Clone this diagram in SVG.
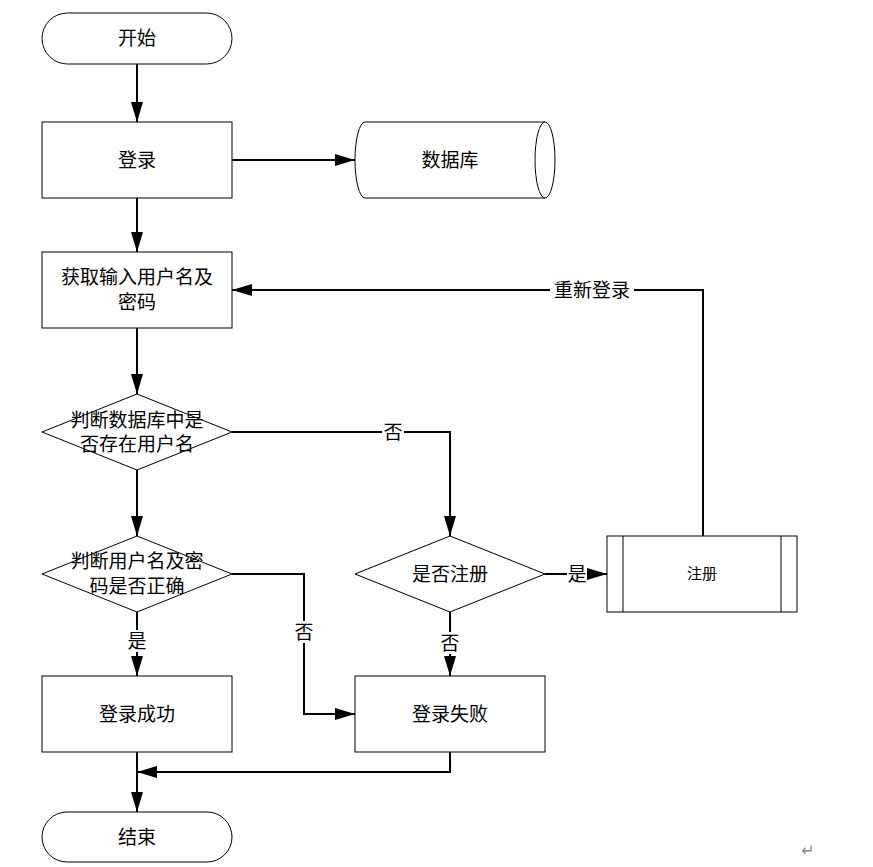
<svg xmlns="http://www.w3.org/2000/svg" width="873" height="867" viewBox="0 0 873 867">
<style>
.s{fill:#fff;stroke:#000;stroke-width:1}
.t{font-family:"Liberation Serif","Noto Sans CJK SC",serif;font-size:19px;text-anchor:middle;dominant-baseline:central;fill:#000}
.c{fill:none;stroke:#000;stroke-width:2}
.l{font-family:"Liberation Serif","Noto Sans CJK SC",serif;font-size:19px;text-anchor:middle;dominant-baseline:central;fill:#000}
</style>
<defs><marker id="a" markerWidth="20" markerHeight="12" refX="20" refY="6" orient="auto" markerUnits="userSpaceOnUse"><path d="M0,0L20,6L0,12Z" fill="#000"/></marker></defs>
<rect width="873" height="867" fill="#fff"/>
<g id="connectors">
<path class="c" d="M137,64V122" marker-end="url(#a)"/>
<path class="c" d="M232,160H355" marker-end="url(#a)"/>
<path class="c" d="M137,198V252" marker-end="url(#a)"/>
<path class="c" d="M137,328V394" marker-end="url(#a)"/>
<path class="c" d="M137,470V536" marker-end="url(#a)"/>
<path class="c" d="M232,432H450V536" marker-end="url(#a)"/>
<path class="c" d="M545,574H607" marker-end="url(#a)"/>
<path class="c" d="M703,536V290H232" marker-end="url(#a)"/>
<path class="c" d="M450,612V676" marker-end="url(#a)"/>
<path class="c" d="M232,574H304V714H355" marker-end="url(#a)"/>
<path class="c" d="M137,612V676" marker-end="url(#a)"/>
<path class="c" d="M137,752V812" marker-end="url(#a)"/>
<path class="c" d="M450,752V772H137" marker-end="url(#a)"/>
<rect x="382" y="421" width="22" height="22" fill="#fff"/><text class="l" x="393" y="432">否</text>
<rect x="567" y="563" width="20" height="22" fill="#fff"/><text class="l" x="577" y="574">是</text>
<rect x="550" y="279" width="84" height="22" fill="#fff"/><text class="l" x="592" y="290">重新登录</text>
<rect x="439" y="632" width="22" height="22" fill="#fff"/><text class="l" x="450" y="643">否</text>
<rect x="293" y="621" width="22" height="22" fill="#fff"/><text class="l" x="304" y="632">否</text>
<rect x="126" y="630" width="22" height="22" fill="#fff"/><text class="l" x="137" y="641">是</text>
</g>
<g id="start"><rect class="s" x="42" y="13" width="190" height="51" rx="25.5"/><text class="t" x="137" y="38">开始</text></g>
<g id="login"><rect class="s" x="42" y="122" width="190" height="76"/><text class="t" x="137" y="160">登录</text></g>
<g id="db"><path class="s" d="M365,122H545A10,38 0 0 1 545,198H365A10,38 0 0 1 365,122Z"/><path class="s" fill="none" d="M545,122A10,38 0 0 0 545,198"/><text class="t" x="450" y="160">数据库</text></g>
<g id="input"><rect class="s" x="42" y="252" width="190" height="76"/><text class="t" x="137" y="277">获取输入用户名及</text><text class="t" x="137" y="302">密码</text></g>
<g id="check1"><path class="s" d="M42,432L137,394L232,432L137,470Z"/><text class="t" x="137" y="420">判断数据库中是</text><text class="t" x="137" y="444">否存在用户名</text></g>
<g id="check2"><path class="s" d="M42,574L137,536L232,574L137,612Z"/><text class="t" x="137" y="561">判断用户名及密</text><text class="t" x="137" y="586">码是否正确</text></g>
<g id="reg"><path class="s" d="M355,574L450,536L545,574L450,612Z"/><text class="t" x="450" y="574">是否注册</text></g>
<g id="register"><rect class="s" x="607" y="536" width="190" height="76"/><path class="s" d="M623,536V612M781,536V612"/><text class="t" x="702" y="574" style="font-size:15px">注册</text></g>
<g id="ok"><rect class="s" x="42" y="676" width="190" height="76"/><text class="t" x="137" y="714">登录成功</text></g>
<g id="fail"><rect class="s" x="355" y="676" width="190" height="76"/><text class="t" x="450" y="714">登录失败</text></g>
<g id="end"><rect class="s" x="42" y="812" width="190" height="50" rx="25"/><text class="t" x="137" y="837">结束</text></g>
<text x="808" y="856" style="font-family:'DejaVu Sans',sans-serif;font-size:16px;fill:#888;text-anchor:middle">↵</text>
</svg>
